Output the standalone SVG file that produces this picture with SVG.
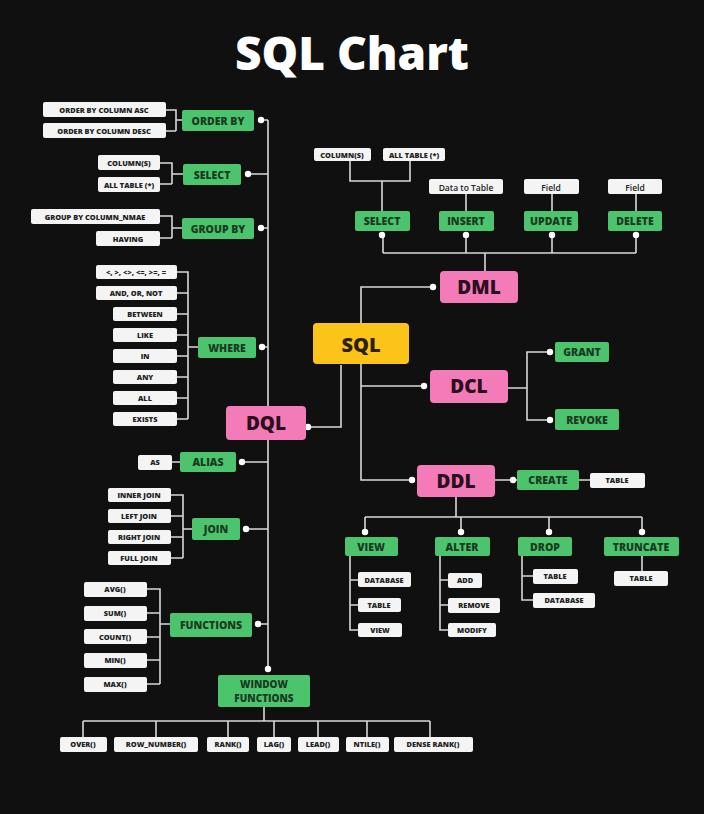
<svg xmlns="http://www.w3.org/2000/svg" width="704" height="814" viewBox="0 0 704 814">
<style>
text{font-family:"Open Sans","Liberation Sans",sans-serif;font-weight:800;text-anchor:middle;dominant-baseline:central}
.w rect{fill:#f4f4f4;rx:2}
.w text{font-size:7.4px;fill:#222}
.g rect{fill:#4cc46e;rx:2}
.g text{font-size:10.5px;fill:#1b3a22}
.p rect{fill:#f27bb8;rx:4}
.p text{font-size:19px;fill:#2a0f1c}
.c path{fill:none;stroke:#d8d8d8;stroke-width:1.6}
.c circle{fill:#fff}
</style>
<rect width="704" height="814" fill="#101010"/>
<text x="352" y="52" style="font-size:46px;fill:#fff;font-weight:800">SQL Chart</text>

<g class="c" id="connectors">
<path d="M268 120V669M261 120H268M248 174H268M261 228H268M262 347H268M242 462H268M246 529H268M258 624H268"/>
<path d="M166 110H176V131M166 131H176M176 120H182M160 163H172V184M160 184H172M172 174H183M160 216H172V238M160 238H172M172 228H182"/>
<path d="M177 272H188V419M177 293H188M177 314H188M177 335H188M177 356H188M177 377H188M177 398H188M177 419H188M188 347H198"/>
<path d="M172 462H180M171 495H183V558M171 516H183M171 537H183M171 558H183M183 529H192M147 589H160V684M147 613H160M147 637H160M147 660H160M147 684H160M160 624H170"/>
<path d="M264 707V721M83 721H430M83 721V737M156 721V737M228 721V737M274 721V737M318 721V737M367 721V737M430 721V737"/>
<path d="M308 427H341V365M361 323V287H433M361 364V480H412M361 386H424M508 388H527V352H550M527 388V420H550"/>
<path d="M485 271V253M383 253H636M383 253V235M466 253V235M552 253V235M636 253V235M382 211V181M350 161V181H410V161M466 211V194M552 211V194M636 211V194"/>
<path d="M495 480H517M579 480H590M456 497V517M365 517H642M365 517V532M461 517V532M549 517V532M642 517V532"/>
<path d="M350 556V630H358M350 580H358M350 605H358M440 556V630H448M440 580H448M440 605H448M522 556V600H533M522 576H533M642 556V571"/>
<circle cx="261" cy="120" r="3.2"/><circle cx="248" cy="174" r="3.2"/><circle cx="261" cy="228" r="3.2"/><circle cx="262" cy="347" r="3.2"/><circle cx="242" cy="462" r="3.2"/><circle cx="246" cy="529" r="3.2"/><circle cx="258" cy="624" r="3.2"/><circle cx="268" cy="669" r="3.2"/>
<circle cx="308" cy="427" r="3.2"/><circle cx="433" cy="287" r="3.2"/><circle cx="424" cy="386" r="3.2"/><circle cx="412" cy="480" r="3.2"/><circle cx="550" cy="352" r="3.2"/><circle cx="550" cy="420" r="3.2"/><circle cx="513" cy="480" r="3.2"/>
<circle cx="382" cy="235" r="3.2"/><circle cx="466" cy="235" r="3.2"/><circle cx="552" cy="235" r="3.2"/><circle cx="636" cy="235" r="3.2"/>
<circle cx="365" cy="532" r="3.2"/><circle cx="461" cy="532" r="3.2"/><circle cx="549" cy="532" r="3.2"/><circle cx="642" cy="532" r="3.2"/>
</g>

<g id="sql"><rect x="313" y="323" width="96" height="41" rx="4" fill="#fcc419"/><text x="361" y="344" style="font-size:20px;fill:#2a2000">SQL</text></g>
<g id="dql" class="p"><rect x="226" y="406" width="80" height="34"/><text x="266" y="423">DQL</text></g>
<g id="dml" class="p"><rect x="440" y="271" width="78" height="32"/><text x="479" y="287">DML</text></g>
<g id="dcl" class="p"><rect x="430" y="370" width="78" height="33"/><text x="469" y="386">DCL</text></g>
<g id="ddl" class="p"><rect x="417" y="465" width="78" height="32"/><text x="456" y="481">DDL</text></g>

<g id="orderby" class="g"><rect x="182" y="110" width="72" height="21"/><text x="218" y="121">ORDER BY</text></g>
<g id="select-dql" class="g"><rect x="183" y="164" width="58" height="21"/><text x="212" y="175">SELECT</text></g>
<g id="groupby" class="g"><rect x="182" y="218" width="72" height="21"/><text x="218" y="229">GROUP BY</text></g>
<g id="where" class="g"><rect x="198" y="337" width="58" height="21"/><text x="227" y="348">WHERE</text></g>
<g id="alias" class="g"><rect x="180" y="452" width="56" height="20"/><text x="208" y="462">ALIAS</text></g>
<g id="join" class="g"><rect x="192" y="518" width="48" height="22"/><text x="216" y="529">JOIN</text></g>
<g id="functions" class="g"><rect x="170" y="613" width="82" height="24"/><text x="211" y="625">FUNCTIONS</text></g>
<g id="window" class="g"><rect x="218" y="675" width="92" height="32"/><text x="264" y="684" style="font-size:10px">WINDOW</text><text x="264" y="698" style="font-size:10px">FUNCTIONS</text></g>

<g id="sel-dml" class="g"><rect x="355" y="211" width="55" height="20"/><text x="382" y="221">SELECT</text></g>
<g id="insert" class="g"><rect x="439" y="211" width="55" height="20"/><text x="466" y="221">INSERT</text></g>
<g id="update" class="g"><rect x="524" y="211" width="54" height="20"/><text x="551" y="221">UPDATE</text></g>
<g id="delete" class="g"><rect x="608" y="211" width="54" height="20"/><text x="635" y="221">DELETE</text></g>
<g id="grant" class="g"><rect x="555" y="342" width="54" height="20"/><text x="582" y="352">GRANT</text></g>
<g id="revoke" class="g"><rect x="555" y="409" width="64" height="21"/><text x="587" y="420">REVOKE</text></g>
<g id="create" class="g"><rect x="517" y="470" width="62" height="20"/><text x="548" y="480">CREATE</text></g>
<g id="view" class="g"><rect x="345" y="537" width="53" height="19"/><text x="371" y="547">VIEW</text></g>
<g id="alter" class="g"><rect x="435" y="537" width="55" height="19"/><text x="462" y="547">ALTER</text></g>
<g id="drop" class="g"><rect x="518" y="537" width="54" height="19"/><text x="545" y="547">DROP</text></g>
<g id="truncate" class="g"><rect x="604" y="537" width="75" height="19"/><text x="641" y="547">TRUNCATE</text></g>

<g class="w" id="leaves">
<g id="l1"><rect x="43" y="102" width="123" height="15"/><text x="104" y="110">ORDER BY COLUMN ASC</text></g>
<g id="l2"><rect x="43" y="123" width="123" height="15"/><text x="104" y="131">ORDER BY COLUMN DESC</text></g>
<g id="l3"><rect x="98" y="155" width="62" height="15"/><text x="129" y="163">COLUMN(S)</text></g>
<g id="l4"><rect x="98" y="177" width="62" height="15"/><text x="129" y="185">ALL TABLE (*)</text></g>
<g id="l5"><rect x="31" y="209" width="129" height="15"/><text x="95" y="217">GROUP BY COLUMN_NMAE</text></g>
<g id="l6"><rect x="96" y="231" width="64" height="15"/><text x="128" y="239">HAVING</text></g>
<g id="w1"><rect x="96" y="265" width="81" height="14"/><text x="136" y="272">&lt;, &gt;, &lt;&gt;, &lt;=, &gt;=, =</text></g>
<g id="w2"><rect x="96" y="286" width="81" height="14"/><text x="136" y="293">AND, OR, NOT</text></g>
<g id="w3"><rect x="113" y="307" width="64" height="14"/><text x="145" y="314">BETWEEN</text></g>
<g id="w4"><rect x="113" y="328" width="64" height="14"/><text x="145" y="335">LIKE</text></g>
<g id="w5"><rect x="113" y="349" width="64" height="14"/><text x="145" y="356">IN</text></g>
<g id="w6"><rect x="113" y="370" width="64" height="14"/><text x="145" y="377">ANY</text></g>
<g id="w7"><rect x="113" y="391" width="64" height="14"/><text x="145" y="398">ALL</text></g>
<g id="w8"><rect x="113" y="412" width="64" height="14"/><text x="145" y="419">EXISTS</text></g>
<g id="as"><rect x="138" y="455" width="34" height="15"/><text x="155" y="462">AS</text></g>
<g id="j1"><rect x="108" y="488" width="63" height="14"/><text x="139" y="495">INNER JOIN</text></g>
<g id="j2"><rect x="108" y="509" width="63" height="14"/><text x="139" y="516">LEFT JOIN</text></g>
<g id="j3"><rect x="108" y="530" width="63" height="14"/><text x="139" y="537">RIGHT JOIN</text></g>
<g id="j4"><rect x="108" y="551" width="63" height="14"/><text x="139" y="558">FULL JOIN</text></g>
<g id="f1"><rect x="84" y="582" width="63" height="15"/><text x="115" y="589">AVG()</text></g>
<g id="f2"><rect x="84" y="606" width="63" height="15"/><text x="115" y="613">SUM()</text></g>
<g id="f3"><rect x="84" y="629" width="63" height="15"/><text x="115" y="637">COUNT()</text></g>
<g id="f4"><rect x="84" y="653" width="63" height="15"/><text x="115" y="660">MIN()</text></g>
<g id="f5"><rect x="84" y="677" width="63" height="15"/><text x="115" y="684">MAX()</text></g>
<g id="b1"><rect x="60" y="737" width="47" height="15"/><text x="83" y="744">OVER()</text></g>
<g id="b2"><rect x="114" y="737" width="84" height="15"/><text x="156" y="744">ROW_NUMBER()</text></g>
<g id="b3"><rect x="207" y="737" width="42" height="15"/><text x="228" y="744">RANK()</text></g>
<g id="b4"><rect x="257" y="737" width="34" height="15"/><text x="274" y="744">LAG()</text></g>
<g id="b5"><rect x="298" y="737" width="41" height="15"/><text x="318" y="744">LEAD()</text></g>
<g id="b6"><rect x="346" y="737" width="43" height="15"/><text x="367" y="744">NTILE()</text></g>
<g id="b7"><rect x="394" y="737" width="79" height="15"/><text x="433" y="744">DENSE RANK()</text></g>
<g id="d1"><rect x="314" y="148" width="57" height="13"/><text x="342" y="155">COLUMN(S)</text></g>
<g id="d2"><rect x="383" y="148" width="62" height="13"/><text x="414" y="155">ALL TABLE (*)</text></g>
<g id="d3"><rect x="429" y="179" width="74" height="15"/><text x="466" y="187" style="font-size:8.5px;font-weight:600">Data to Table</text></g>
<g id="d4"><rect x="524" y="179" width="55" height="15"/><text x="551" y="187" style="font-size:8.5px;font-weight:600">Field</text></g>
<g id="d5"><rect x="608" y="179" width="54" height="15"/><text x="635" y="187" style="font-size:8.5px;font-weight:600">Field</text></g>
<g id="t0"><rect x="590" y="473" width="55" height="15"/><text x="617" y="480">TABLE</text></g>
<g id="v1"><rect x="358" y="572" width="53" height="15"/><text x="384" y="580">DATABASE</text></g>
<g id="v2"><rect x="358" y="598" width="43" height="14"/><text x="379" y="605">TABLE</text></g>
<g id="v3"><rect x="358" y="623" width="44" height="14"/><text x="380" y="630">VIEW</text></g>
<g id="a1"><rect x="448" y="573" width="34" height="15"/><text x="465" y="580">ADD</text></g>
<g id="a2"><rect x="448" y="598" width="52" height="15"/><text x="474" y="605">REMOVE</text></g>
<g id="a3"><rect x="448" y="623" width="48" height="14"/><text x="472" y="630">MODIFY</text></g>
<g id="r1"><rect x="533" y="569" width="45" height="15"/><text x="555" y="576">TABLE</text></g>
<g id="r2"><rect x="533" y="593" width="62" height="15"/><text x="564" y="600">DATABASE</text></g>
<g id="t1"><rect x="614" y="571" width="54" height="15"/><text x="641" y="578">TABLE</text></g>
</g>
</svg>
